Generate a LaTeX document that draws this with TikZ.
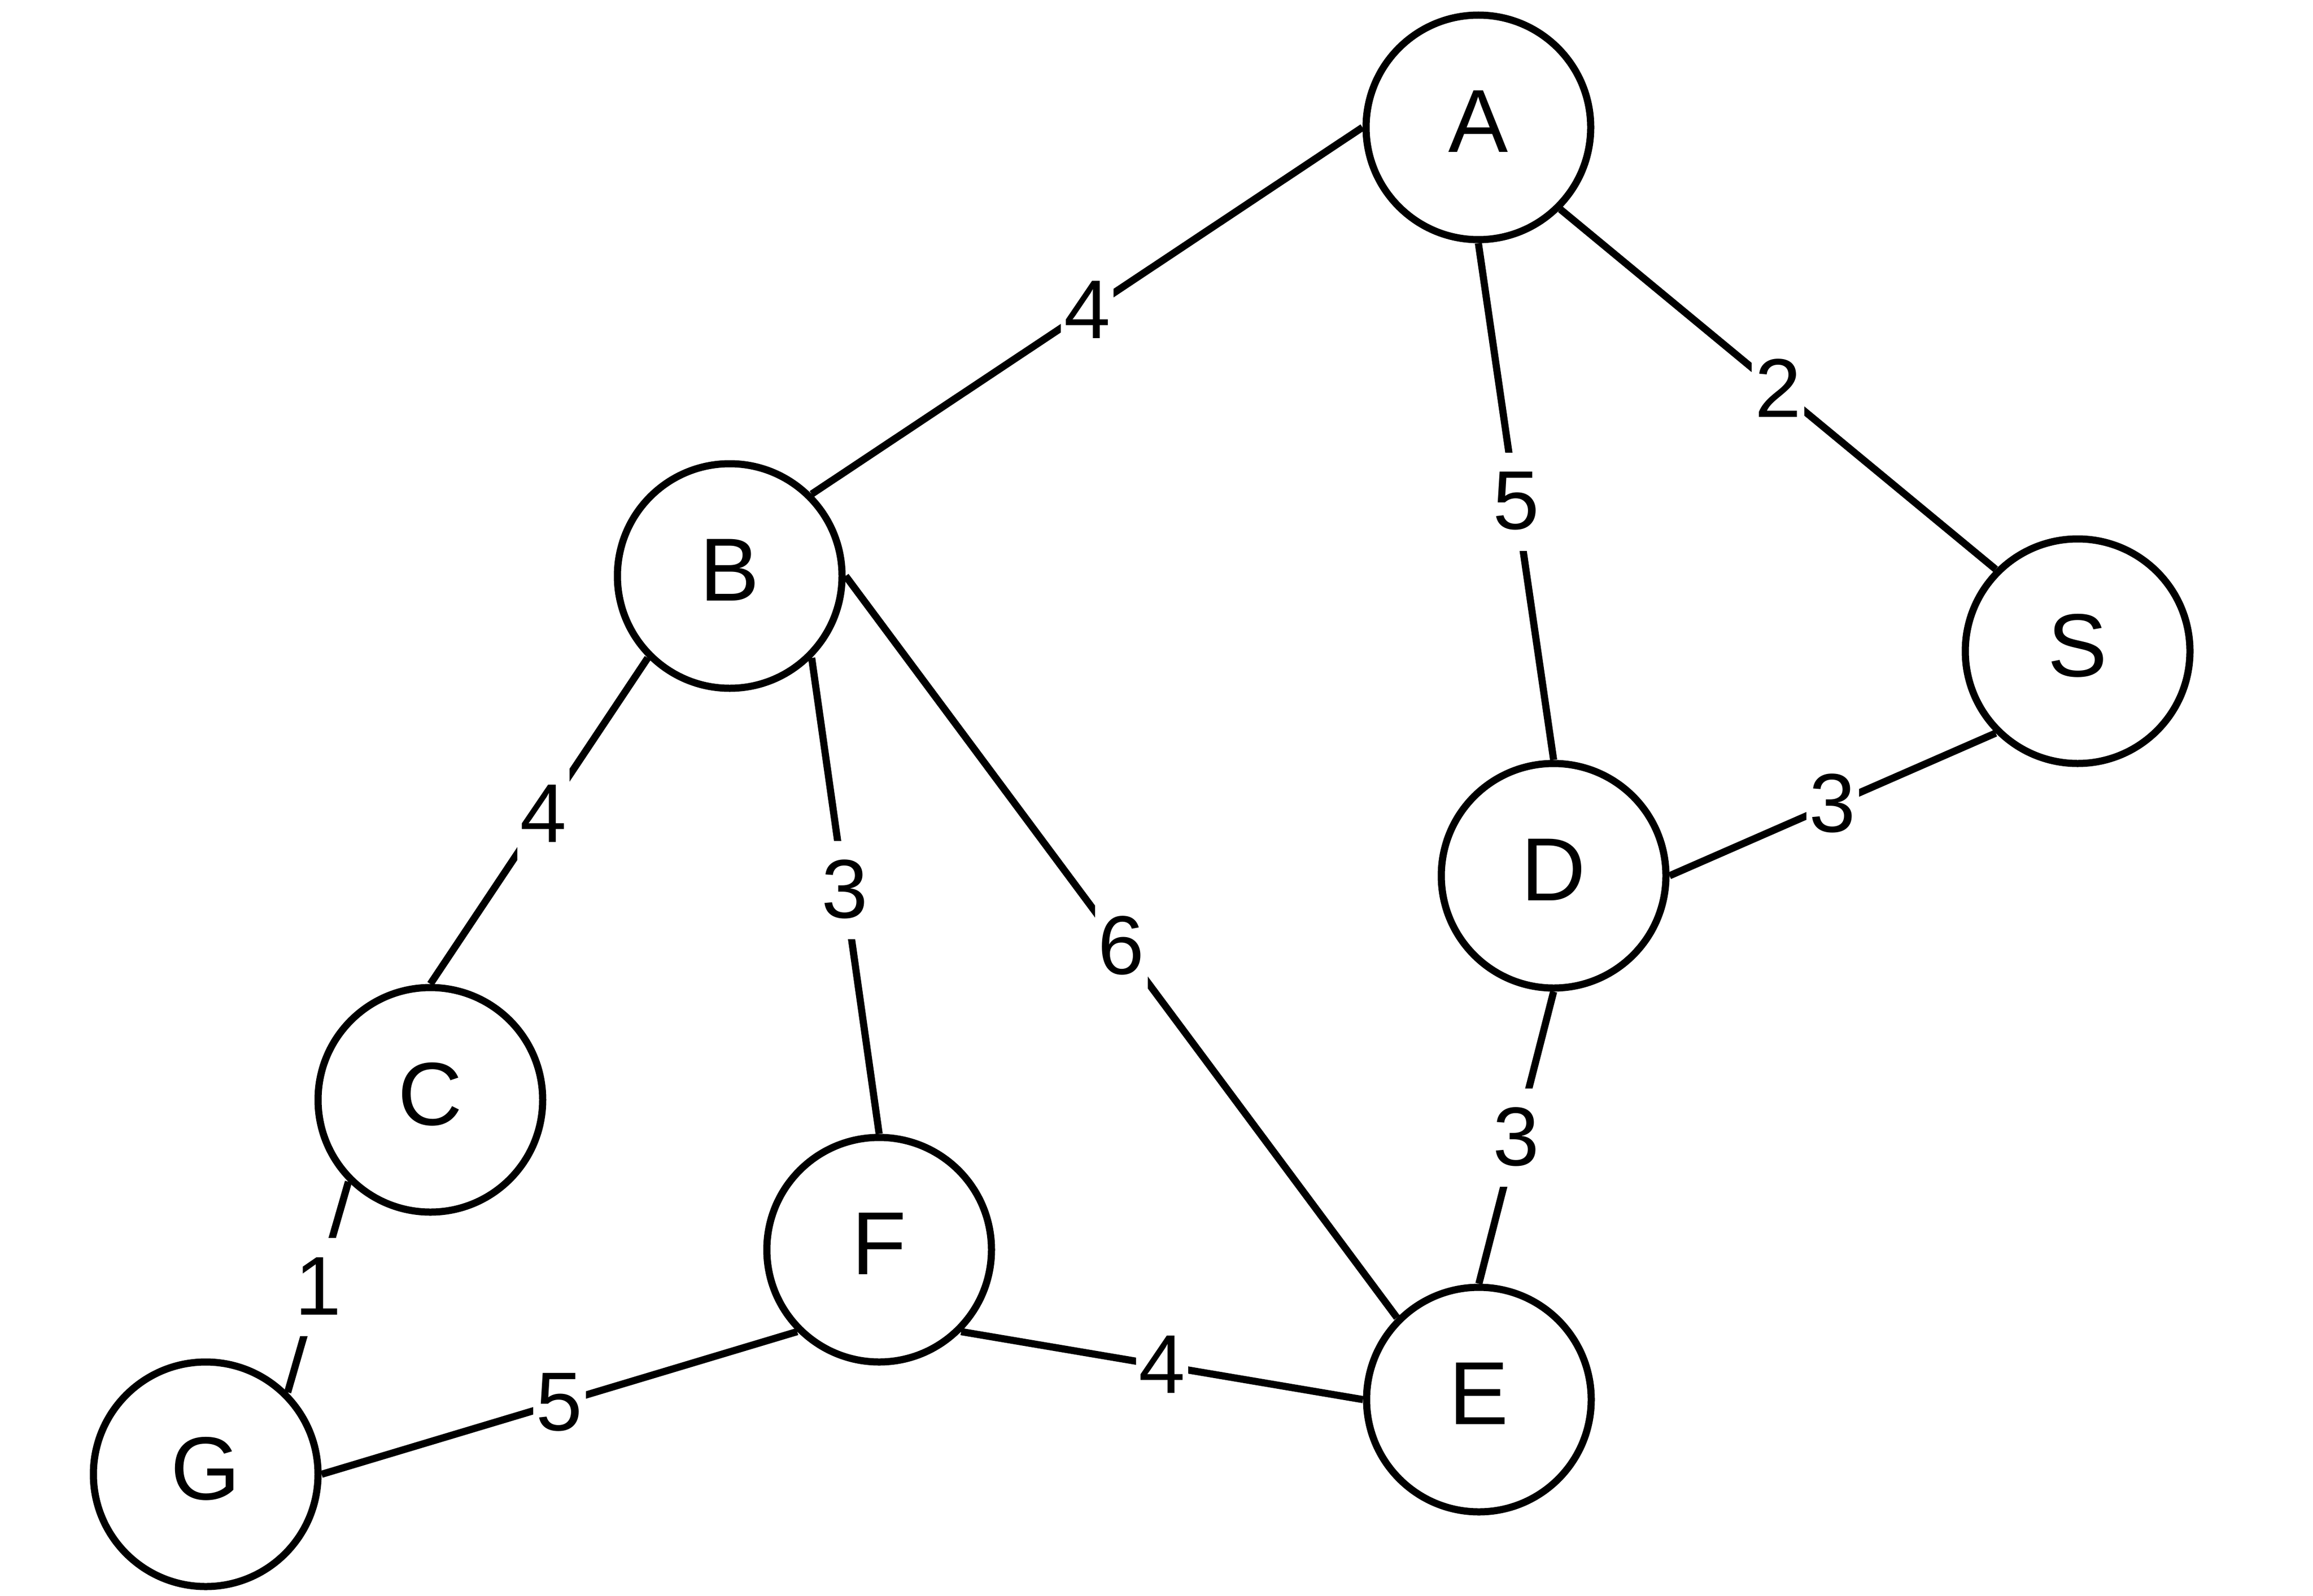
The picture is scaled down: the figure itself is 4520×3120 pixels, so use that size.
\documentclass[tikz,border=0pt]{standalone}
\usepackage{fontspec}
\setmainfont{Liberation Sans}
\begin{document}
\begin{tikzpicture}[x=1pt,y=-1pt,
  vertex/.style={circle,draw=black,line width=14pt,fill=white,minimum size=439pt,inner sep=0pt,
    text depth=24pt,font=\fontsize{175}{200}\selectfont},
  edge/.style={draw=black,line width=14pt},
  wlabel/.style={fill=white,inner xsep=6pt,inner ysep=0pt,text height=150pt,text depth=42pt,
    font=\fontsize{163}{190}\selectfont}]
\useasboundingbox[fill=white] (0,0) rectangle (4520,3120);
\node[vertex] (A) at (2889,249) {A};
\node[vertex] (B) at (1426,1126) {B};
\node[vertex] (S) at (4060,1273) {S};
\node[vertex] (D) at (3036,1712) {D};
\node[vertex] (C) at (841,2150) {C};
\node[vertex] (F) at (1718,2443) {F};
\node[vertex] (E) at (2890,2736) {E};
\node[vertex] (G) at (402,2882) {G};
\path[edge] (A.west) -- node[wlabel] {4} (B.45);
\path[edge] (A.south) -- node[wlabel] {5} (D.north);
\path[edge] (A.-45) -- node[wlabel] {2} (S.135);
\path[edge] (B.225) -- node[wlabel,pos=0.48] {4} (C.north);
\path[edge] (B.-45) -- node[wlabel,pos=0.488] {3} (F.north);
\path[edge] (B.east) -- node[wlabel] {6} (E.135);
\path[edge] (S.225) -- node[wlabel] {3} (D.east);
\path[edge] (D.south) -- node[wlabel] {3} (E.north);
\path[edge] (C.225) -- node[wlabel] {1} (G.45);
\path[edge] (G.east) -- node[wlabel] {5} (F.225);
\path[edge] (F.-45) -- node[wlabel] {4} (E.west);
\end{tikzpicture}
\end{document}
